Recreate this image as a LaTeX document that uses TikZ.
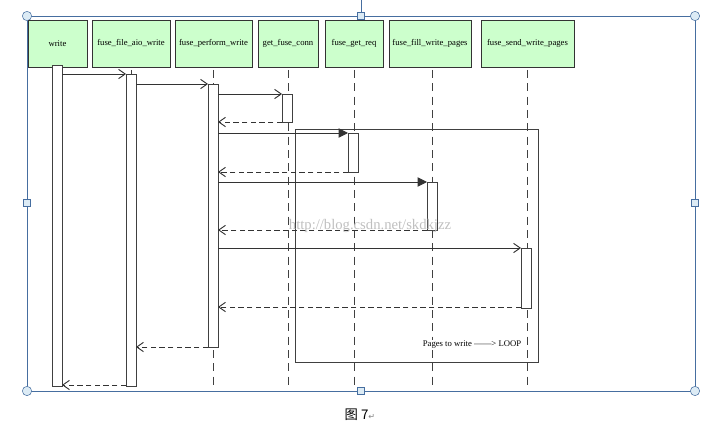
\documentclass[tikz,border=0pt]{standalone}
\usepackage{fontspec}
\setmainfont{Liberation Serif}
\newfontfamily\cjk{Noto Sans CJK SC}
\newfontfamily\djv{DejaVu Sans}
\usetikzlibrary{arrows.meta}
\definecolor{hdr}{RGB}{204,255,204}
\definecolor{sel}{RGB}{70,110,160}
\definecolor{hnd}{RGB}{220,235,245}
\begin{document}
\begin{tikzpicture}[x=0.75pt,y=-0.75pt,
  hbox/.style={draw=black!80,fill=hdr,minimum height=35pt,inner sep=1pt,font=\fontsize{6.5}{7}\selectfont},
  life/.style={draw=black!75,dash pattern=on 6pt off 4pt,line width=0.7pt},
  bar/.style={draw=black!75,fill=white,line width=0.7pt},
  msg/.style={draw=black!80,line width=0.7pt,-{Straight Barb[length=5pt,width=7pt]}},
  fmsg/.style={draw=black!80,line width=0.7pt,-{Triangle[length=7pt,width=7pt]}},
  ret/.style={draw=black!80,line width=0.7pt,dash pattern=on 4pt off 2.5pt,-{Straight Barb[length=5pt,width=7pt]}},
  handc/.style={draw=sel,fill=hnd,circle,inner sep=0pt,minimum size=7pt},
  hands/.style={draw=sel,fill=hnd,inner sep=0pt,minimum size=5.5pt}]
\useasboundingbox (0,0) rectangle (721,428);
% selection frame
\draw[sel,line width=0.6pt] (27,16) rectangle (695,391);
\draw[sel,line width=0.6pt] (361,0) -- (361,16);
\node[handc] (c1) at (27,16) {};
\node[handc] (c2) at (695,16) {};
\node[handc] (c3) at (27,391) {};
\node[handc] (c4) at (695,391) {};
\node[hands] (s1) at (361,16) {};
\node[hands] (s2) at (27,203) {};
\node[hands] (s3) at (695,203) {};
\node[hands] (s4) at (361,391) {};
% headers
\foreach \n/\l/\r/\t in {h1/28/87/write,h2/92/170/fuse\_file\_aio\_write,h3/175/252/fuse\_perform\_write,h4/258/318/get\_fuse\_conn,h5/325/383/fuse\_get\_req,h6/389/471/fuse\_fill\_write\_pages,h7/481/574/fuse\_send\_write\_pages}
  \node[hbox,minimum width={(\r-\l)*0.75pt}] (\n) at ({(\l+\r)/2},43.5) {\t};
% loop box
\draw[black!75,line width=0.7pt] (295,129) rectangle (538,362);
% lifelines
\foreach \x in {57,131,213,288,354,432,527}
  \draw[life] (\x,70) -- (\x,386);
\node[font=\fontsize{6.5}{7}\selectfont,fill=white,inner sep=1pt] (lp) at (472,345) {Pages to write \textemdash\textemdash> LOOP};
% bars
\path[bar] (52,65) rectangle (62,386);
\path[bar] (126,74) rectangle (136,386);
\path[bar] (208,84) rectangle (218,347);
\path[bar] (282,94) rectangle (292,122);
\path[bar] (348,133) rectangle (358,172);
\path[bar] (427,182) rectangle (437,230);
\path[bar] (521,248) rectangle (531,308);
\coordinate (a1) at (62,74); \coordinate (b1) at (126,74);
\coordinate (a2) at (136,84); \coordinate (b2) at (208,84);
\coordinate (a3) at (218,94); \coordinate (b3) at (282,94);
\coordinate (a4) at (282,122); \coordinate (b4) at (218,122);
\coordinate (a5) at (218,133); \coordinate (b5) at (348,133);
\coordinate (a6) at (348,172); \coordinate (b6) at (218,172);
\coordinate (a7) at (218,182); \coordinate (b7) at (427,182);
\coordinate (a8) at (427,230); \coordinate (b8) at (218,230);
\coordinate (a9) at (218,248); \coordinate (b9) at (521,248);
\coordinate (a10) at (521,307); \coordinate (b10) at (218,307);
\coordinate (a11) at (208,347); \coordinate (b11) at (136,347);
\coordinate (a12) at (126,385); \coordinate (b12) at (62,385);
\draw[msg] (a1) -- (b1);
\draw[msg] (a2) -- (b2);
\draw[msg] (a3) -- (b3);
\draw[ret] (a4) -- (b4);
\draw[fmsg] (a5) -- (b5);
\draw[ret] (a6) -- (b6);
\draw[fmsg] (a7) -- (b7);
\draw[ret] (a8) -- (b8);
\draw[msg] (a9) -- (b9);
\draw[ret] (a10) -- (b10);
\draw[ret] (a11) -- (b11);
\draw[ret] (a12) -- (b12);
% watermark
\node[text=black!25,font=\fontsize{11}{12}\selectfont] (wm) at (370,226) {http://blog.csdn.net/skdkjzz};
% caption
\node[font=\cjk\fontsize{10}{12}\selectfont,anchor=west] (cap) at (340,415) {图 7\textcolor{black!50}{\djv\fontsize{6}{8}\selectfont↵}};
\end{tikzpicture}
\end{document}
